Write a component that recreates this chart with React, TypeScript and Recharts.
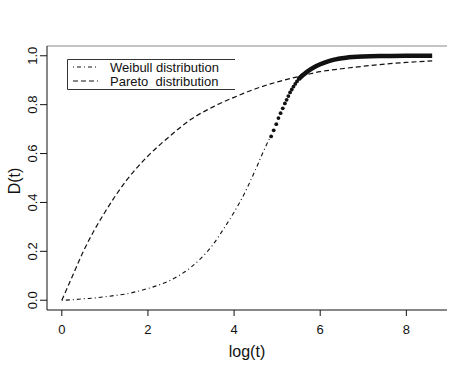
import React from 'react';
import { ComposedChart, Line, Scatter, XAxis, YAxis, ReferenceLine } from 'recharts';

// log(t) grid and values
const weibullX = [0, 0.25, 0.5, 0.75, 1, 1.25, 1.5, 1.75, 2, 2.25, 2.5, 2.75, 3, 3.25, 3.5, 3.75, 4, 4.25, 4.5, 4.75, 4.85];
const weibullY = [0, 0.002, 0.006, 0.009, 0.014, 0.02, 0.026, 0.036, 0.048, 0.062, 0.08, 0.104, 0.135, 0.175, 0.225, 0.29, 0.36, 0.44, 0.535, 0.635, 0.67];

const obsX = [4.86, 4.92, 4.98, 5.03, 5.08, 5.13, 5.18, 5.22, 5.26, 5.3, 5.34, 5.38, 5.42, 5.46, 5.5, 5.54, 5.58];
const obsY = [0.67, 0.695, 0.72, 0.745, 0.765, 0.785, 0.805, 0.82, 0.835, 0.85, 0.862, 0.874, 0.885, 0.895, 0.905, 0.913, 0.921];

const denseX = [5.5, 5.7, 5.9, 6.1, 6.3, 6.6, 7, 7.5, 8, 8.6];
const denseY = [0.905, 0.935, 0.957, 0.972, 0.983, 0.992, 0.997, 0.999, 1.0, 1.0];

const paretoX = [0, 0.25, 0.5, 0.75, 1, 1.5, 2, 2.5, 3, 3.5, 4, 4.5, 5, 5.5, 6, 6.5, 7, 7.5, 8, 8.6];
const paretoY = [0, 0.1, 0.2, 0.285, 0.36, 0.49, 0.59, 0.67, 0.74, 0.79, 0.83, 0.865, 0.893, 0.915, 0.935, 0.947, 0.957, 0.966, 0.973, 0.979];

const xTicks = [0, 2, 4, 6, 8];
const yTicks = [0, 0.2, 0.4, 0.6, 0.8, 1.0];
const legendLabels = ['Weibull distribution', 'Pareto  distribution'];

const zip = (xs: number[], ys: number[]) => xs.map((x, i) => ({ x, y: ys[i] }));
const weibullData = zip(weibullX, weibullY);
const obsData = zip(obsX, obsY);
const denseData = zip(denseX, denseY);
const paretoData = zip(paretoX, paretoY);

const FONT = '"Liberation Sans", Arial, sans-serif';
const INK = '#111';

const YTick = (props: any) => {
  const { x, y, payload } = props;
  const cx = x - 7.5;
  return (
    <text x={cx} y={y} transform={`rotate(-90, ${cx}, ${y})`} textAnchor="middle" dominantBaseline="central"
      fontFamily={FONT} fontSize={13} fill={INK}>
      {Number(payload.value).toFixed(1)}
    </text>
  );
};

const XTick = (props: any) => {
  const { x, y, payload } = props;
  return (
    <text x={x} y={y + 13} textAnchor="middle" dominantBaseline="central" fontFamily={FONT} fontSize={13} fill={INK}>
      {payload.value}
    </text>
  );
};

const LegendBox = () => (
  <svg width={170} height={31} style={{ position: 'absolute', left: 67, top: 59, display: 'block' }}>
    <line x1={0.5} y1={0.5} x2={168} y2={0.5} stroke="#333" />
    <line x1={0.5} y1={30.5} x2={168} y2={30.5} stroke="#333" />
    <line x1={0.5} y1={0.5} x2={0.5} y2={30.5} stroke="#333" />
    <line x1={6} y1={8} x2={31} y2={8} stroke={INK} strokeDasharray="1 3 4 3" />
    <line x1={6} y1={22} x2={31} y2={22} stroke={INK} strokeDasharray="5 3" />
    <text x={43} y={8} dominantBaseline="central" fontFamily={FONT} fontSize={13} fill={INK}>{legendLabels[0]}</text>
    <text x={43} y={22} dominantBaseline="central" fontFamily={FONT} fontSize={13} fill={INK} xmlSpace="preserve">{legendLabels[1]}</text>
  </svg>
);

export default function App() {
  return (
    <div style={{ position: 'absolute', left: 0, top: 0, width: 474, height: 366, background: '#fff' }}>
      <ComposedChart width={474} height={366} margin={{ top: 46, right: 27, bottom: 0, left: 0 }}>
        <XAxis
          type="number"
          dataKey="x"
          domain={[-0.344, 8.944]}
          ticks={xTicks}
          allowDataOverflow
          height={56}
          tickSize={6}
          tickMargin={0}
          stroke={INK}
          tick={<XTick />}
          label={{
            content: (p: any) => {
              const vb = p.viewBox;
              return (
                <text x={vb.x + vb.width / 2} y={351} textAnchor="middle" dominantBaseline="central"
                  fontFamily={FONT} fontSize={16} fill={INK}>log(t)</text>
              );
            },
          }}
        />
        <YAxis
          type="number"
          domain={[-0.04, 1.04]}
          ticks={yTicks}
          allowDataOverflow
          width={47}
          tickSize={7}
          tickMargin={0}
          stroke={INK}
          tick={<YTick />}
          label={{
            content: (p: any) => {
              const vb = p.viewBox;
              const cx = 14;
              const cy = vb.y + vb.height / 2 + 3;
              return (
                <text x={cx} y={cy} transform={`rotate(-90, ${cx}, ${cy})`} textAnchor="middle" dominantBaseline="central"
                  fontFamily={FONT} fontSize={16} fill={INK}>D(t)</text>
              );
            },
          }}
        />
        <ReferenceLine y={1.04} stroke="#888" />
        <Line data={paretoData} dataKey="y" type="monotone" stroke={INK} strokeWidth={1.2} strokeDasharray="5 3"
          dot={false} activeDot={false} isAnimationActive={false} />
        <Line data={weibullData} dataKey="y" type="monotone" stroke={INK} strokeWidth={1.1} strokeDasharray="1 3 4 3"
          dot={false} activeDot={false} isAnimationActive={false} />
        <Scatter data={obsData} dataKey="y" fill={INK} isAnimationActive={false}
          shape={(p: any) => <circle cx={p.cx} cy={p.cy} r={1.9} fill={INK} />} />
        <Line data={denseData} dataKey="y" type="monotone" stroke={INK} strokeWidth={4.5}
          dot={false} activeDot={false} isAnimationActive={false} />
      </ComposedChart>
      <LegendBox />
    </div>
  );
}
